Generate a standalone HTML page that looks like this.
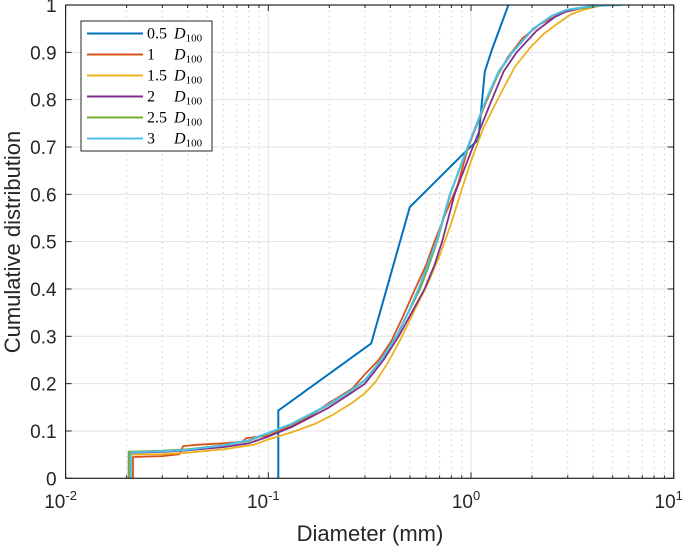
<!DOCTYPE html>
<html><head><meta charset="utf-8"><style>
html,body{margin:0;padding:0;background:#fff;}
svg{display:block;font-family:"Liberation Sans",sans-serif;}
</style></head><body>
<svg id="chart" width="685" height="548" viewBox="0 0 685 548" xmlns="http://www.w3.org/2000/svg">
<defs><clipPath id="plotclip"><rect x="66" y="5" width="607.5" height="473.3"/></clipPath></defs>
<g id="grid"></g>
<g id="series" clip-path="url(#plotclip)"></g>
<g id="axes"></g>
<text x="370" y="541" font-size="22" text-anchor="middle" fill="#262626">Diameter (mm)</text>
<text transform="translate(20,242) rotate(-90)" font-size="22" text-anchor="middle" fill="#262626">Cumulative distribution</text>
<g id="legend"></g>
</svg>
<script>
const seriesNames = ["0.5", "1", "1.5", "2", "2.5", "3"];
const seriesColors = ["#0072BD", "#D95319", "#EDB120", "#7E2F8E", "#77AC30", "#4DBEEE"];
const s05 = [[0.112,0],[0.112,0.143],[0.322,0.285],[0.499,0.573],[0.97,0.696],[1.087,0.715],[1.17,0.859],[1.266,0.905],[1.53,1.0]];
const s10 = [[0.0215,0],[0.0215,0.045],[0.03,0.047],[0.0365,0.051],[0.038,0.068],[0.045,0.071],[0.06,0.074],[0.074,0.077],[0.078,0.085],[0.1,0.09],[0.12,0.105],[0.145,0.12],[0.172,0.14],[0.2,0.16],[0.22,0.17],[0.26,0.19],[0.3,0.22],[0.35,0.25],[0.405,0.29],[0.46,0.34],[0.53,0.4],[0.6,0.45],[0.66,0.5],[0.75,0.56],[0.86,0.62],[0.97,0.7],[1.1,0.76],[1.2,0.8],[1.35,0.85],[1.52,0.89],[1.8,0.93],[2.2,0.96],[2.9,0.985],[3.5,0.993],[4.2,0.997]];
const s15 = [[0.0205,0],[0.0205,0.05],[0.03,0.051],[0.04,0.054],[0.06,0.061],[0.085,0.071],[0.1,0.082],[0.13,0.097],[0.17,0.115],[0.21,0.135],[0.26,0.16],[0.3,0.18],[0.34,0.205],[0.39,0.245],[0.445,0.29],[0.52,0.35],[0.61,0.41],[0.7,0.47],[0.8,0.54],[0.9,0.61],[1.0,0.67],[1.15,0.74],[1.39,0.81],[1.65,0.87],[1.96,0.91],[2.3,0.94],[2.66,0.96],[3.1,0.98],[3.6,0.99],[4.3,0.998]];
const s20 = [[0.0205,0],[0.0205,0.054],[0.03,0.056],[0.04,0.059],[0.06,0.066],[0.08,0.074],[0.1,0.088],[0.13,0.108],[0.16,0.128],[0.2,0.15],[0.25,0.177],[0.3,0.2],[0.37,0.25],[0.44,0.3],[0.51,0.35],[0.59,0.4],[0.66,0.45],[0.72,0.5],[0.83,0.6],[1.0,0.69],[1.24,0.79],[1.45,0.86],[1.68,0.9],[2.1,0.945],[2.6,0.975],[3.0,0.988],[4.0,0.998]];
const s25 = [[0.0205,0],[0.0205,0.056],[0.03,0.058],[0.04,0.061],[0.06,0.07],[0.08,0.079],[0.1,0.095],[0.13,0.114],[0.16,0.134],[0.2,0.156],[0.25,0.182],[0.3,0.207],[0.36,0.25],[0.43,0.3],[0.49,0.35],[0.56,0.4],[0.62,0.45],[0.68,0.5],[0.79,0.6],[0.965,0.7],[1.19,0.8],[1.38,0.86],[1.6,0.9],[2.03,0.95],[2.5,0.977],[2.98,0.99],[4.5,0.999]];
const s30 = [[0.021,0],[0.021,0.055],[0.03,0.057],[0.04,0.06],[0.06,0.07],[0.08,0.08],[0.1,0.096],[0.13,0.115],[0.16,0.135],[0.2,0.157],[0.25,0.183],[0.3,0.208],[0.36,0.25],[0.428,0.3],[0.49,0.35],[0.55,0.4],[0.61,0.45],[0.676,0.5],[0.787,0.6],[0.963,0.7],[1.186,0.8],[1.37,0.86],[1.6,0.9],[2.03,0.95],[2.5,0.977],[2.98,0.99],[4.0,0.998],[5.6,1.0]];
const seriesData = [s05, s10, s15, s20, s25, s30];
const yTicks = [0,0.1,0.2,0.3,0.4,0.5,0.6,0.7,0.8,0.9,1];
const yTickLabels = ["0","0.1","0.2","0.3","0.4","0.5","0.6","0.7","0.8","0.9","1"];
const xDecades = [-2,-1,0,1];

const X0=65.6, DEC=202.7, Y0=478.3, YH=473.3;
function xs(v){return X0+(Math.log10(v)+2)*DEC;}
function ys(v){return Y0-v*YH;}
const NS="http://www.w3.org/2000/svg";
function mk(tag,attrs,parent){const e=document.createElementNS(NS,tag);for(const k in attrs)e.setAttribute(k,attrs[k]);parent.appendChild(e);return e;}
const grid=document.getElementById('grid'), axes=document.getElementById('axes'), series=document.getElementById('series'), legend=document.getElementById('legend');
const xL=xs(0.01), xR=xs(10), yT=ys(1), yB=ys(0);
yTicks.forEach((t,i)=>{
  const g=mk('line',{x1:xL,x2:xR,y1:ys(t),y2:ys(t),stroke:'#e3e3e3','stroke-width':1},grid);
  
  
  mk('line',{x1:xL,x2:xL+6,y1:ys(t),y2:ys(t),stroke:'#262626','stroke-width':1},axes);
  mk('line',{x1:xR,x2:xR-6,y1:ys(t),y2:ys(t),stroke:'#262626','stroke-width':1},axes);
  const lb=mk('text',{x:xL-9,y:ys(t)+7,'font-size':19,'text-anchor':'end',fill:'#262626'},axes);
  lb.textContent=yTickLabels[i];
  
  
});
xDecades.forEach((d,i)=>{
  const x=xs(Math.pow(10,d));
  const g=mk('line',{x1:x,x2:x,y1:yT,y2:yB,stroke:'#e3e3e3','stroke-width':1},grid);
  
  
  mk('line',{x1:x,x2:x,y1:yB,y2:yB-6,stroke:'#262626','stroke-width':1},axes);
  mk('line',{x1:x,x2:x,y1:yT,y2:yT+6,stroke:'#262626','stroke-width':1},axes);
  const lb=mk('text',{x:x-5,y:508,'font-size':19,'text-anchor':'middle',fill:'#262626'},axes);
  
  
  lb.textContent='10';
  const sp=mk('tspan',{dy:-8,'font-size':13},lb);sp.textContent=String(d);
  if(i<xDecades.length-1){
    for(let m=2;m<=9;m++){
      const xm=xs(m*Math.pow(10,d));
      const gm=mk('line',{x1:xm,x2:xm,y1:yT,y2:yB,stroke:'#cfcfcf','stroke-width':1,'stroke-dasharray':'1.5,4'},grid);
      
      
      mk('line',{x1:xm,x2:xm,y1:yB,y2:yB-3,stroke:'#262626','stroke-width':1},axes);
      mk('line',{x1:xm,x2:xm,y1:yT,y2:yT+3,stroke:'#262626','stroke-width':1},axes);
    }
  }
});
const box=mk('rect',{x:xL,y:yT,width:xR-xL,height:yB-yT,fill:'none',stroke:'#262626','stroke-width':1.2},axes);


seriesData.forEach((data,i)=>{
  const pts=data.map(p=>xs(p[0]).toFixed(1)+','+ys(p[1]).toFixed(1)).join(' ');
  const pl=mk('polyline',{points:pts,fill:'none',stroke:seriesColors[i],'stroke-width':(i===0||i>=4)?2:1.8,'stroke-linejoin':'round'},series);
  
  
});
const lbox=mk('rect',{x:81,y:21,width:131,height:130,fill:'#fff',stroke:'#262626','stroke-width':1},legend);


seriesNames.forEach((n,i)=>{
  const y=33.5+i*21;
  const ln=mk('line',{x1:87,x2:143,y1:y,y2:y,stroke:seriesColors[i],'stroke-width':2},legend);
  
  
  const t=mk('text',{x:147,y:y+5,'font-size':16,'font-family':'Liberation Serif, serif',fill:'#000'},legend);
  
  
  t.textContent=n;
  const d=mk('tspan',{x:174,'font-style':'italic'},t);d.textContent='D';
  const s=mk('tspan',{dy:3,'font-size':11},t);s.textContent='100';
});
</script>
</body></html>
